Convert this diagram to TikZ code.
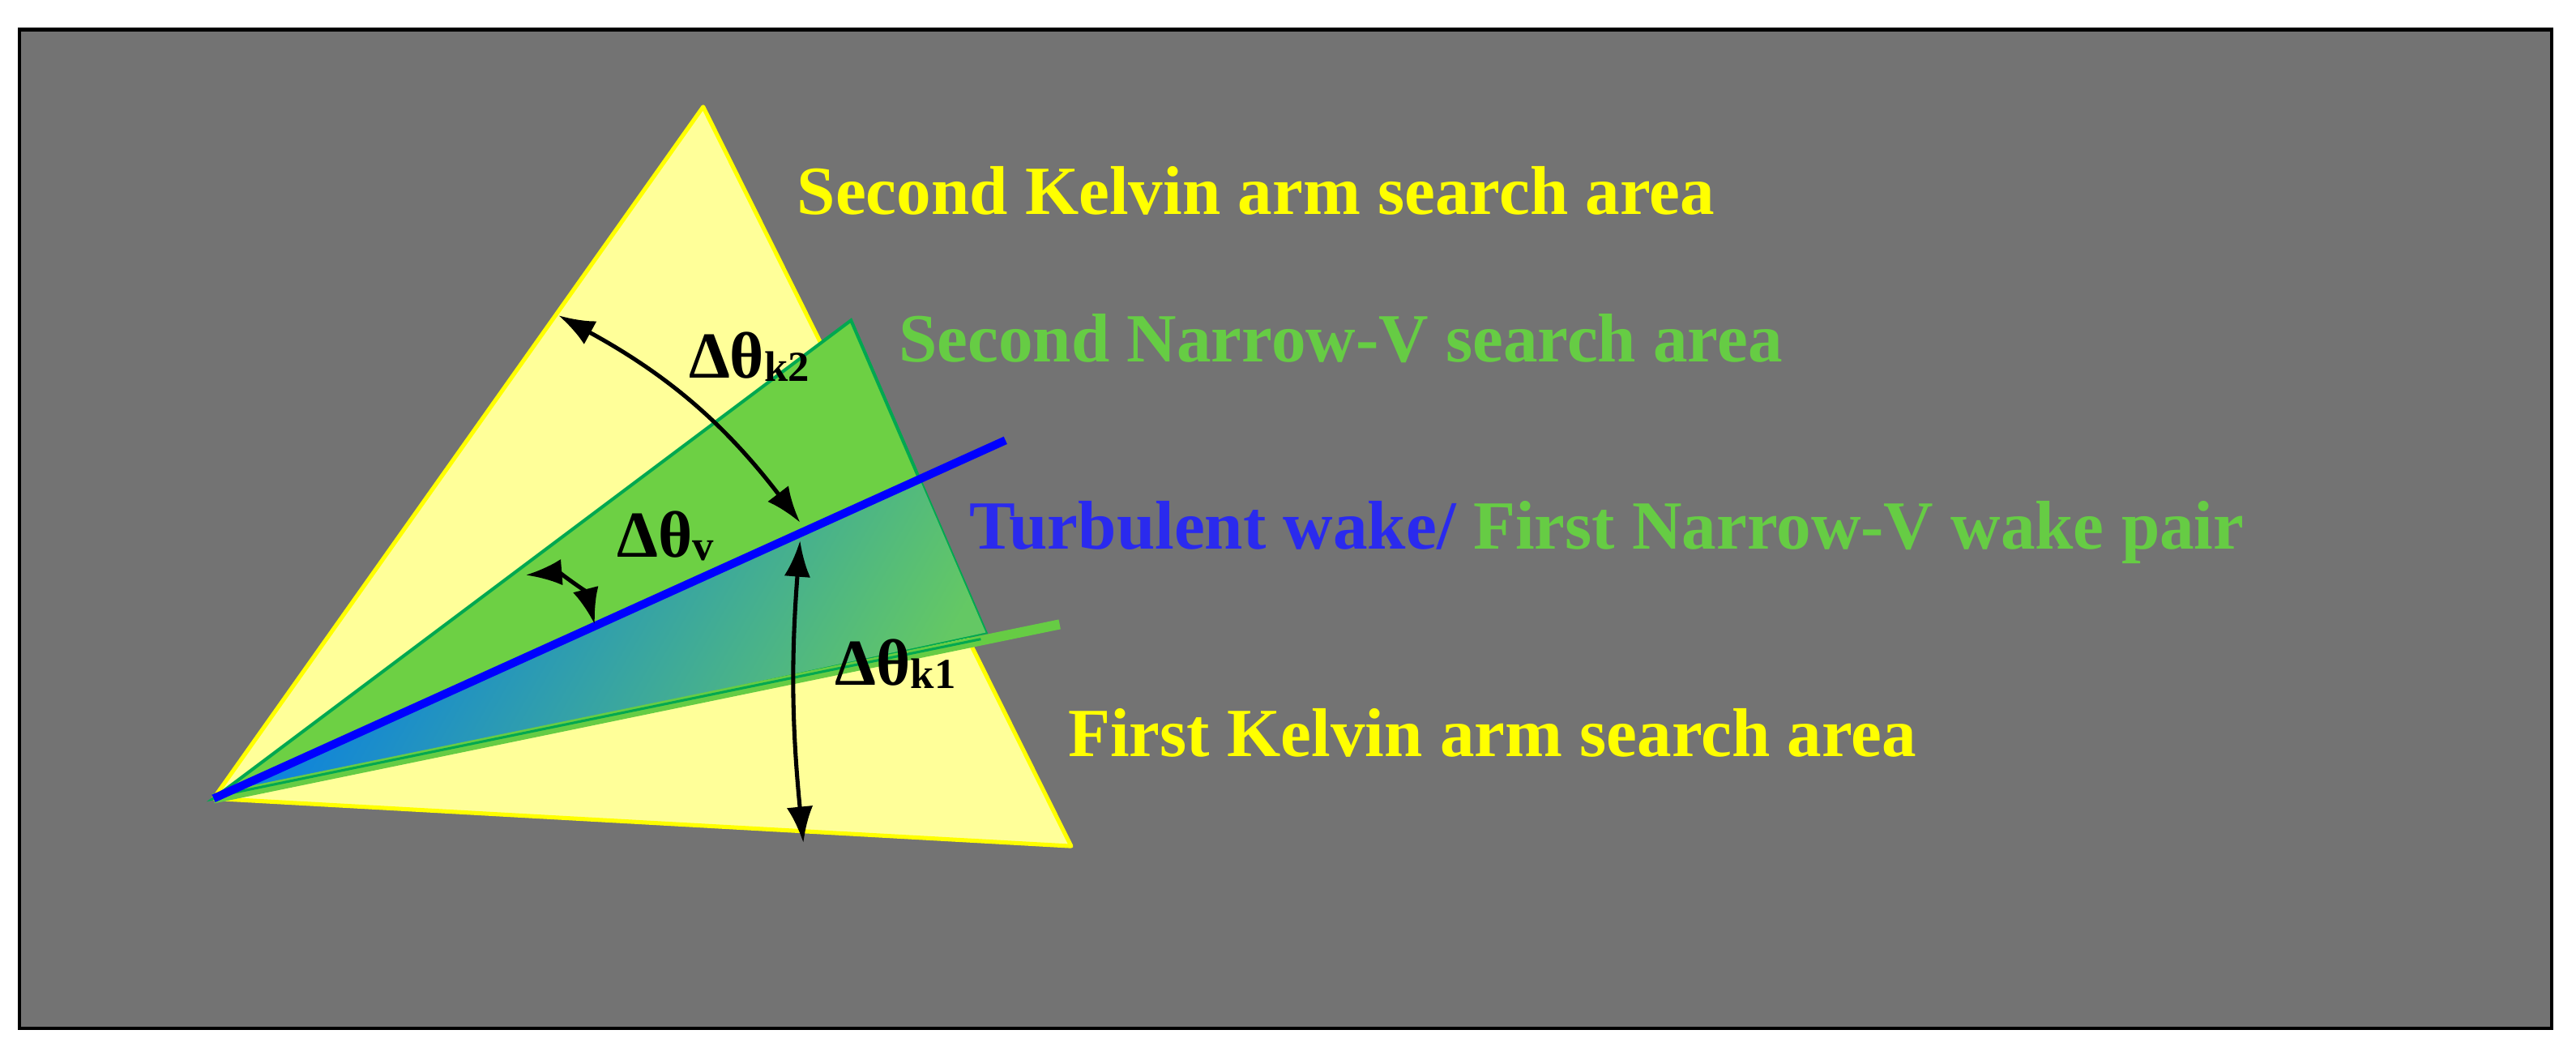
\documentclass[tikz,border=0pt]{standalone}
\usepackage{fontspec}
\setmainfont{Liberation Serif}
\usetikzlibrary{arrows.meta,calc}
\definecolor{bg}{HTML}{737373}
\definecolor{ylw}{HTML}{FFFF99}
\definecolor{ylwline}{HTML}{FFFF00}
\definecolor{grn}{HTML}{6DD044}
\definecolor{dgrn}{HTML}{00A850}
\definecolor{lgrn}{HTML}{66CC44}
\definecolor{txtgrn}{HTML}{66CC44}
\definecolor{txtblue}{HTML}{2A2AEE}
\definecolor{txtylw}{HTML}{FFFF00}
\newcommand{\angsub}[1]{\raisebox{-2pt}{\fontsize{26}{26}\selectfont #1}}
\tikzset{
  lbl/.style={font=\fontsize{42}{42}\selectfont\bfseries, anchor=west, inner sep=0pt},
  ang/.style={font=\fontsize{40}{40}\selectfont\bfseries, inner sep=0pt},
  dbl/.style={line width=2.5pt, {Latex[length=22pt,width=16pt]}-{Latex[length=22pt,width=16pt]}}
}
\begin{document}
\begin{tikzpicture}[x=1pt,y=-1pt]
\useasboundingbox (0,0) rectangle (1568,637);
\fill[white] (0,0) rectangle (1568,637);
\draw[fill=bg, line width=2pt] (12,18) rectangle (1553,626);
% yellow triangle
\coordinate (A) at (130,486);
\coordinate (Yt) at (428,65);
\coordinate (Yb) at (652,515);
\draw[fill=ylw, draw=ylwline, line width=2.5pt, line join=round] (A) -- (Yt) -- (Yb) -- cycle;
% green triangle
\coordinate (G1) at (518,195);
\coordinate (G2) at (600,385);
\draw[fill=grn, draw=dgrn, line width=2pt] (A) -- (G1) -- (G2) -- cycle;
% gradient region
\coordinate (P) at (559.6,291.3);
\shade[left color={rgb,255:red,0;green,120;blue,240}, right color={rgb,255:red,100;green,200;blue,100}, shading angle=60]
  (A) -- (P) -- (G2) -- cycle;
% lower green line
\coordinate (L2) at (645,380);
\draw[lgrn, line width=6pt] (A) -- (L2);
\draw[dgrn, line width=1.5pt] ($(A)+(0,-1)$) -- ($(L2)+(-48,9)$);
% blue line
\coordinate (B2) at (612,268);
\draw[blue, line width=5pt] (A) -- (B2);
% arrows
\coordinate (k2a) at (340,192);
\coordinate (k2b) at (487,318);
\draw[dbl] (k2a) to[bend left=12] (k2b);
\coordinate (va) at (320,350);
\coordinate (vb) at (362,380);
\draw[dbl] (va) to[bend left=40] (vb);
\coordinate (k1a) at (487,329);
\coordinate (k1b) at (489,513);
\draw[dbl] (k1a) to[bend right=5] (k1b);
\node[ang] (tk2) at (456,217) {Δθ\angsub{k2}};
\node[ang] (tv) at (405,326) {Δθ\angsub{v}};
\node[ang] (tk1) at (545,404) {Δθ\angsub{k1}};
% labels
\node[lbl, text=txtylw] (l1) at (485,116) {Second Kelvin arm search area};
\node[lbl, text=txtgrn] (l2) at (547,206) {Second Narrow-V search area};
\node[lbl] (l3) at (590,324) {\textcolor{txtblue}{Turbulent wake/} \textcolor{txtgrn}{First Narrow-V wake pair}};
\node[lbl, text=txtylw] (l4) at (650,446) {First Kelvin arm search area};
\end{tikzpicture}
\end{document}
